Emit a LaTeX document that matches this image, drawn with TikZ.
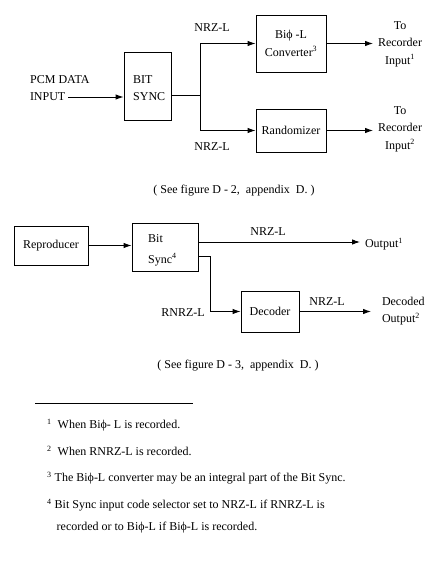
\documentclass[tikz,border=0pt]{standalone}
\usepackage{fontspec}
\setmainfont{Liberation Serif}
\usetikzlibrary{arrows.meta}
\newcommand{\myphi}{\char"03D5}
\begin{document}
\begin{tikzpicture}[x=1pt,y=-1pt,
  font=\fontsize{12}{17.5}\selectfont,
  blk/.style={draw, line width=0.9pt, inner sep=0pt},
  lbl/.style={inner sep=0pt},
  conn/.style={line width=0.9pt, -{Latex[length=8pt,width=5.5pt]}},
  wire/.style={line width=0.9pt}]
\useasboundingbox (0,0) rectangle (439,567);

% ---------- Figure 1 ----------
\node[blk, minimum width=47pt, minimum height=68pt] (bs1) at (147.5,86) {};
\node[lbl, anchor=west, align=left] (bs1t) at (133,88) {BIT\\SYNC};
\node[blk, minimum width=70pt, minimum height=57pt, align=center] (biph) at (291,43.5) {Bi\myphi\ -L\\Converter\textsuperscript{3}};
\node[blk, minimum width=70pt, minimum height=43pt] (rand) at (291,130.5) {Randomizer};

\node[lbl, anchor=west] (pcm1) at (30,80) {PCM DATA};
\node[lbl, anchor=west, outer xsep=3pt] (pcm2) at (27,97) {INPUT};
\draw[conn] (pcm2.east) -- (bs1.west |- pcm2.east);

\coordinate (j1) at (200,95);
\draw[wire] (bs1.east |- j1) -- (j1);
\draw[conn] (j1) |- (biph.west);
\draw[conn] (j1) |- (rand.west);
\node[lbl] (n1) at (212,28) {NRZ-L};
\node[lbl] (n2) at (212,147) {NRZ-L};

\node[lbl, align=center, outer xsep=5pt] (out1) at (400,44) {To\\Recorder\\Input\textsuperscript{1}};
\node[lbl, align=center, outer xsep=5pt] (out2) at (400,129) {To\\Recorder\\Input\textsuperscript{2}};
\draw[conn] (biph.east) -- (out1.west |- biph.east);
\draw[conn] (rand.east) -- (out2.west |- rand.east);

\node[lbl] (cap1) at (234,191) {( See figure D - 2,\ \ appendix\ \ D. )};

% ---------- Figure 2 ----------
\node[blk, minimum width=74pt, minimum height=39pt] (rep) at (51,245.5) {Reproducer};
\node[blk, minimum width=66pt, minimum height=48pt] (bs2) at (165,247) {};
\node[lbl, anchor=west, align=left, font=\fontsize{12}{21}\selectfont] (bs2t) at (148,250) {Bit\\Sync\textsuperscript{4}};
\node[blk, minimum width=58pt, minimum height=41pt] (dec) at (270,311.5) {Decoder};

\draw[conn] (rep.east) -- (bs2.west |- rep.east);

\node[lbl, anchor=west, outer xsep=5pt] (o1) at (360,244) {Output\textsuperscript{1}};
\draw[conn] ([yshift=5pt]bs2.east) -- (o1.west |- 0,242);
\node[lbl] (n3) at (268,232) {NRZ-L};

\draw[conn] ([yshift=-9pt]bs2.east) -| ([xshift=-30pt]dec.west) -- (dec.west);
\node[lbl, anchor=east] (rn) at (205,313) {RNRZ-L};

\node[lbl, anchor=west, align=left, outer xsep=11pt, font=\fontsize{12}{17}\selectfont] (dout) at (371,311.5) {Decoded\\Output\textsuperscript{2}};
\draw[conn] (dec.east) -- (dout.west |- dec.east);
\node[lbl] (n4) at (327,302) {NRZ-L};

\node[lbl] (cap2) at (238,366) {( See figure D - 3,\ \ appendix\ \ D. )};

% ---------- Footnotes ----------
\coordinate (r1) at (35,403);
\coordinate (r2) at (193,403);
\draw[line width=0.9pt] (r1) -- (r2);
\node[lbl, anchor=west] (f1) at (47,425) {\textsuperscript{1}\ \ When Bi\myphi- L is recorded.};
\node[lbl, anchor=west] (f2) at (47,451) {\textsuperscript{2}\ \ When RNRZ-L is recorded.};
\node[lbl, anchor=west] (f3) at (47,478) {\textsuperscript{3} The Bi\myphi-L converter may be an integral part of the Bit Sync.};
\node[lbl, anchor=west, align=left, font=\fontsize{12}{22}\selectfont] (f4) at (47,516) {\textsuperscript{4} Bit Sync input code selector set to NRZ-L if RNRZ-L is\\\phantom{\textsuperscript{4}}\ \,recorded or to Bi\myphi-L if Bi\myphi-L is recorded.};
\end{tikzpicture}
\end{document}
